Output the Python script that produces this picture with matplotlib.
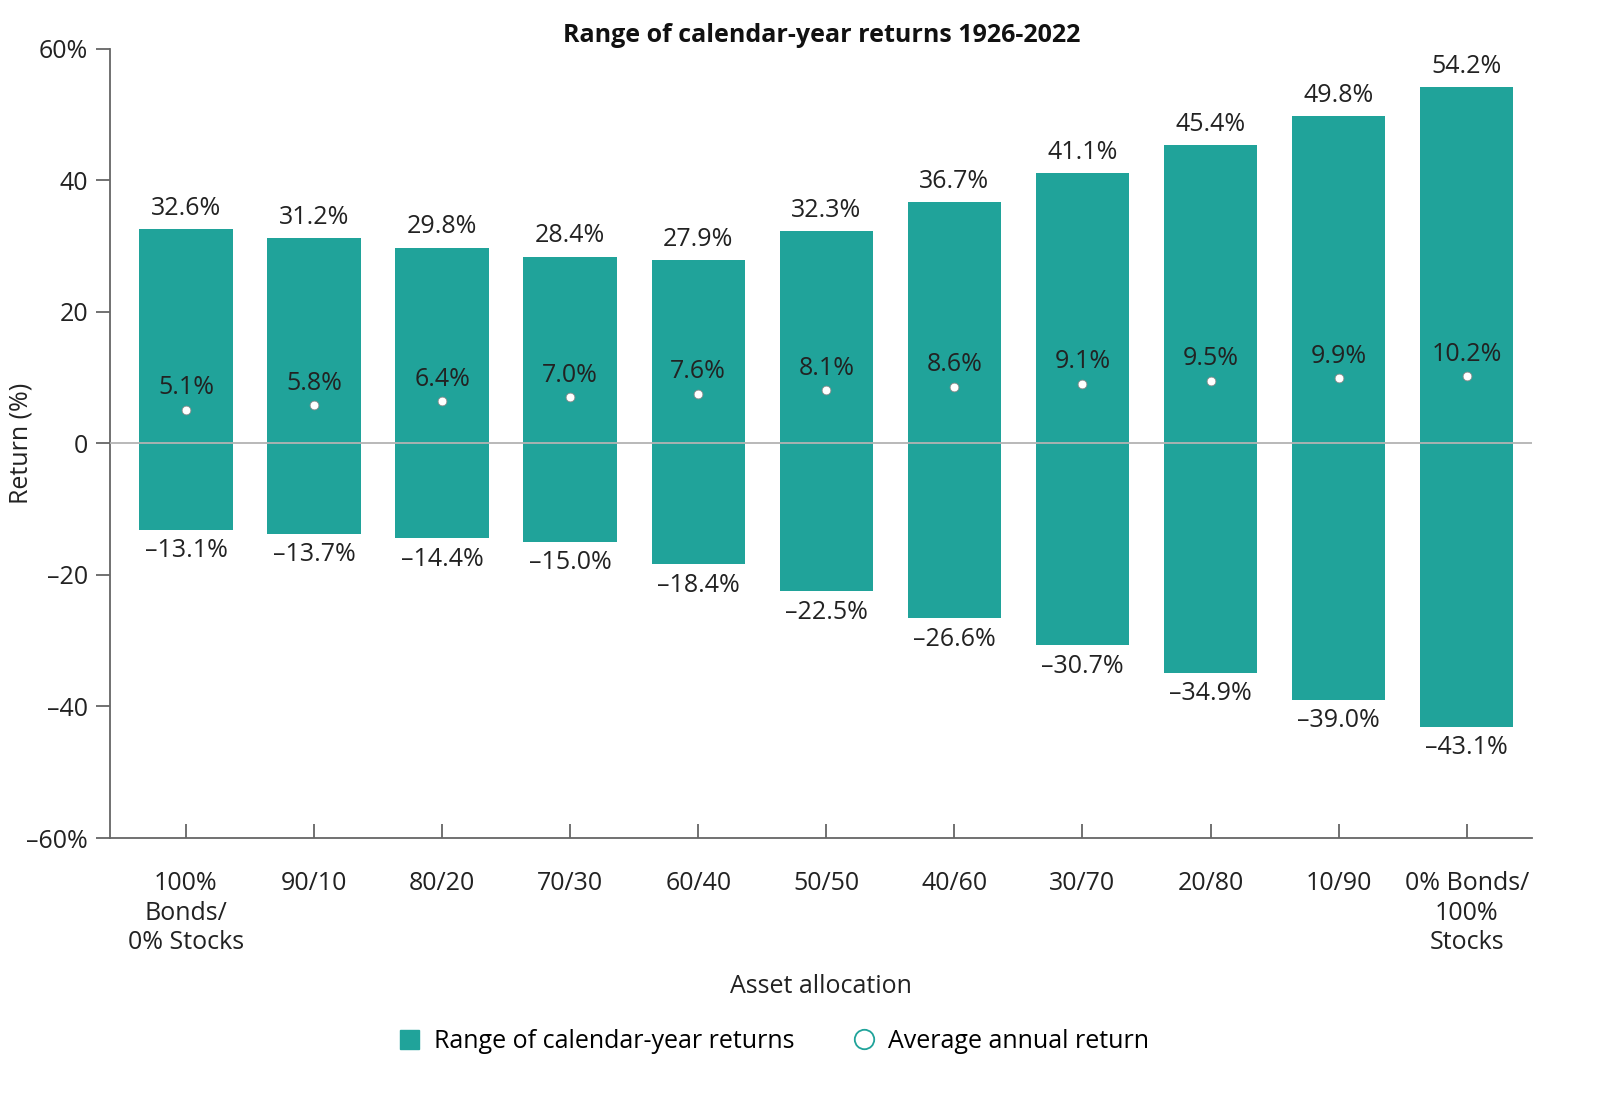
import matplotlib.pyplot as plt
import numpy as np
from matplotlib.lines import Line2D
from matplotlib.patches import Patch

plt.rcParams.update({
    'font.family': ['Open Sans', 'DejaVu Sans'],
    'font.size': 18,
})

# Data
allocations = ['100%\nBonds/\n0% Stocks', '90/10', '80/20', '70/30', '60/40', '50/50',
               '40/60', '30/70', '20/80', '10/90', '0% Bonds/\n100%\nStocks']
highs = [32.6, 31.2, 29.8, 28.4, 27.9, 32.3, 36.7, 41.1, 45.4, 49.8, 54.2]
lows = [-13.1, -13.7, -14.4, -15.0, -18.4, -22.5, -26.6, -30.7, -34.9, -39.0, -43.1]
averages = [5.1, 5.8, 6.4, 7.0, 7.6, 8.1, 8.6, 9.1, 9.5, 9.9, 10.2]

yticks = [60, 40, 20, 0, -20, -40, -60]
ytick_labels = ['60%', '40', '20', '0', '\u201320', '\u201340', '\u201360%']

teal = '#20A39A'
txt = '#222222'

fig = plt.figure(figsize=(16, 10.93), dpi=100)
ax = fig.add_axes([0.069, 0.2333, 0.8885, 0.7219])

x = np.arange(len(allocations))
ax.bar(x, np.array(highs) - np.array(lows), bottom=lows, width=0.73,
       color=teal, zorder=2)
ax.axhline(0, color='#b3b3b3', linewidth=1.3, zorder=3)
ax.scatter(x, averages, s=40, color='white', edgecolor='#8a8a8a',
           linewidth=0.6, zorder=4)

def fmt(v):
    s = f'{abs(v):.1f}%'
    return ('\u2013' + s) if v < 0 else s

for i in range(len(x)):
    ax.annotate(fmt(highs[i]), (x[i], highs[i]), xytext=(0, 6),
                textcoords='offset points', ha='center', va='bottom',
                fontsize=18, color=txt)
    ax.annotate(fmt(lows[i]), (x[i], lows[i]), xytext=(0, -6),
                textcoords='offset points', ha='center', va='top',
                fontsize=18, color=txt)
    ax.annotate(fmt(averages[i]), (x[i], averages[i]), xytext=(0, 7),
                textcoords='offset points', ha='center', va='bottom',
                fontsize=18, color=txt, zorder=5)

ax.set_xlim(-0.59, 10.51)
ax.set_ylim(-60, 60)
ax.set_yticks(yticks)
ax.set_yticklabels(ytick_labels, fontsize=18, color=txt)
ax.set_xticks(x)
ax.set_xticklabels(allocations, fontsize=18, color=txt, linespacing=1.22)

ax.tick_params(axis='y', direction='out', length=10, width=1.3, color='#666666', pad=6)
ax.tick_params(axis='x', direction='in', length=10, width=1.3, color='#666666', pad=24)

for s in ['top', 'right']:
    ax.spines[s].set_visible(False)
for s in ['left', 'bottom']:
    ax.spines[s].set_color('#666666')
    ax.spines[s].set_linewidth(1.3)

ax.set_ylabel('Return (%)', fontsize=18, color=txt)
ax.yaxis.set_label_coords(-0.054, 0.5)
ax.set_xlabel('Asset allocation', fontsize=18, color=txt, labelpad=14)
ax.set_title('Range of calendar-year returns 1926-2022', fontsize=18,
             fontweight='bold', color='#111111', pad=5)

handles = [
    Patch(facecolor=teal, edgecolor=teal, label='Range of calendar-year returns'),
    Line2D([], [], marker='o', linestyle='none', markerfacecolor='white',
           markeredgecolor=teal, markersize=14, markeredgewidth=1.3,
           label='Average annual return'),
]
fig.legend(handles=handles, loc='center', bbox_to_anchor=(0.484, 0.047), ncol=2,
           frameon=False, fontsize=18, handlelength=0.75, handleheight=0.75,
           columnspacing=2.4, handletextpad=0.6)

fig.savefig('out.png', dpi=100, facecolor='white')
